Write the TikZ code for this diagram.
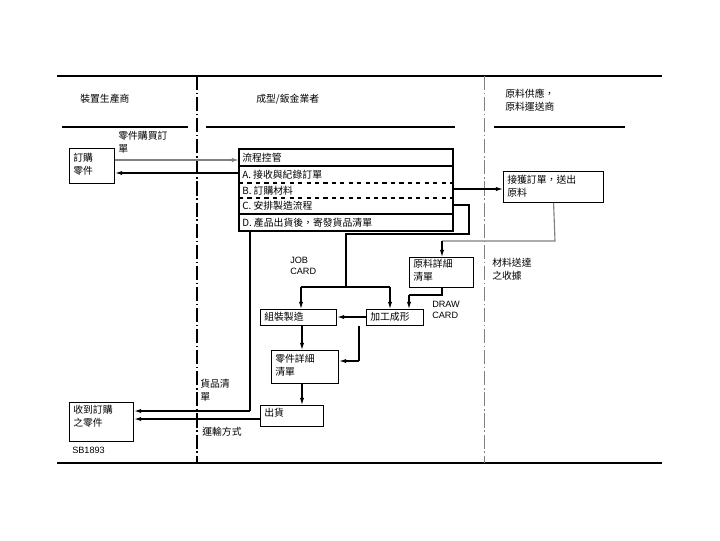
\documentclass[tikz,border=0pt]{standalone}
\usepackage{fontspec}
\setmainfont{Liberation Sans}
\newfontfamily\cjk{Noto Sans CJK TC}
\usetikzlibrary{arrows.meta}
\tikzset{
  box/.style={draw, thick, inner sep=0pt, anchor=north west},
  lbl/.style={font=\cjk\fontsize{7}{9}\selectfont, align=left, anchor=north west, inner sep=0pt},
  row/.style={font=\cjk\fontsize{7}{9}\selectfont, anchor=west, inner sep=0pt},
  eng/.style={font=\fontsize{6.5}{8}\selectfont, align=left, anchor=north west, inner sep=0pt},
  flow/.style={thick, -{Latex[length=5pt,width=3pt]}},
  lane/.style={thick, dash pattern=on 10pt off 2pt on 1pt off 2pt}
}
\begin{document}
\begin{tikzpicture}[x=0.025cm, y=-0.025cm]
\useasboundingbox (0,0) rectangle (720,540);
% frame
\draw[thick] (57,76) -- (662,76);
\draw[thick] (57,463) -- (662,463);
\draw[lane] (197,76) -- (197,463);
\draw[lane, gray, thin] (484,76) -- (484,463);
\draw[thick] (62,127) -- (188,127);
\draw[thick] (206,127) -- (455,127);
\draw[thick] (494,127) -- (625,127);
% headers
\node[lbl] at (80,94) {裝置生產商};
\node[lbl] at (256,94) {成型/鈑金業者};
\node[lbl] at (505,89) {原料供應，\\原料運送商};
% boxes
\node[box, minimum width=1.125cm, minimum height=0.875cm] (order) at (69,148) {};
\node[lbl] at (73,153) {訂購\\零件};
\draw[thick] (239,149) rectangle (453,231);
\draw[thick] (239,166) -- (453,166);
\draw[thick, dashed] (239,183) -- (453,183);
\draw[thick, dashed] (239,198) -- (453,198);
\draw[thick] (239,214) -- (453,214);
\node[row] at (242,157.5) {流程控管};
\node[row] at (242,174.5) {A. 接收與紀錄訂單};
\node[row] at (242,190.5) {B. 訂購材料};
\node[row] at (242,206) {C. 安排製造流程};
\node[row] at (242,222.5) {D. 產品出貨後，寄發貨品清單};
\coordinate (ctrlL1) at (239,160);
\coordinate (ctrlL2) at (239,173);
\coordinate (ctrlB) at (453,189);
\coordinate (ctrlC) at (453,205);
\coordinate (ctrlD) at (250,231);
\node[box, minimum width=2.5cm, minimum height=0.775cm] (recv) at (503,171) {};
\node[lbl] at (507,175) {接獲訂單，送出\\原料};
\node[box, minimum width=1.6cm, minimum height=0.75cm] (bom) at (409,257) {};
\node[lbl] at (413,259) {原料詳細\\清單};
\node[box, minimum width=1.9cm, minimum height=0.4cm] (asm) at (260,309) {};
\node[row] at (264,317) {組裝製造};
\node[box, minimum width=1.425cm, minimum height=0.4cm] (form) at (366,309) {};
\node[row] at (370,317) {加工成形};
\node[box, minimum width=1.675cm, minimum height=0.825cm] (parts) at (271,350) {};
\node[lbl] at (275,354) {零件詳細\\清單};
\node[box, minimum width=1.575cm, minimum height=0.525cm] (ship) at (260,405) {};
\node[lbl] at (264,408) {出貨};
\node[box, minimum width=1.6cm, minimum height=0.975cm] (got) at (69,402) {};
\node[lbl] at (73,405) {收到訂購\\之零件};
% labels
\node[lbl] at (118,131) {零件購買訂\\單};
\node[lbl] at (492,258) {材料送達\\之收據};
\node[lbl] at (200,379) {貨品清\\單};
\node[lbl] at (202,427) {運輸方式};
\node[eng] at (290,257) {JOB\\CARD};
\node[eng] at (432,301) {DRAW\\CARD};
\node[eng] at (72,447) {SB1893};
% connectors
\draw[flow, gray] (order.east |- ctrlL1) -- (ctrlL1);
\draw[flow] (ctrlL2) -- (order.east |- ctrlL2);
\draw[flow] (ctrlB) -- (recv.west |- ctrlB);
\draw[thick] (ctrlC) -- (469,205) -- (469,234) -- (346,234) -- (346,287);
\draw[thick] (301,287) -- (390,287);
\draw[flow] (301,287) -- (asm.north -| 301,0);
\draw[flow] (390,287) -- (form.north -| 390,0);
\draw[thick, gray] (recv.south) -- (555,241) -- (442,241);
\draw[flow] (442,241) -- (bom.north -| 442,0);
\draw[thick] (bom.south -| 442,0) -- (442,295) -- (409,295);
\draw[flow] (409,295) -- (form.north -| 409,0);
\draw[flow] (form.west |- 0,317) -- (asm.east |- 0,317);
\draw[thick] (form.south -| 359,0) -- (359,361);
\draw[flow] (359,361) -- (parts.east |- 0,361);
\draw[flow] (asm.south -| 302,0) -- (parts.north -| 302,0);
\draw[flow] (parts.south -| 302,0) -- (ship.north -| 302,0);
\draw[thick] (ctrlD) -- (250,411);
\draw[flow] (250,411) -- (got.east |- 0,411);
\draw[flow] (ship.west |- 0,419) -- (got.east |- 0,419);
\end{tikzpicture}
\end{document}
